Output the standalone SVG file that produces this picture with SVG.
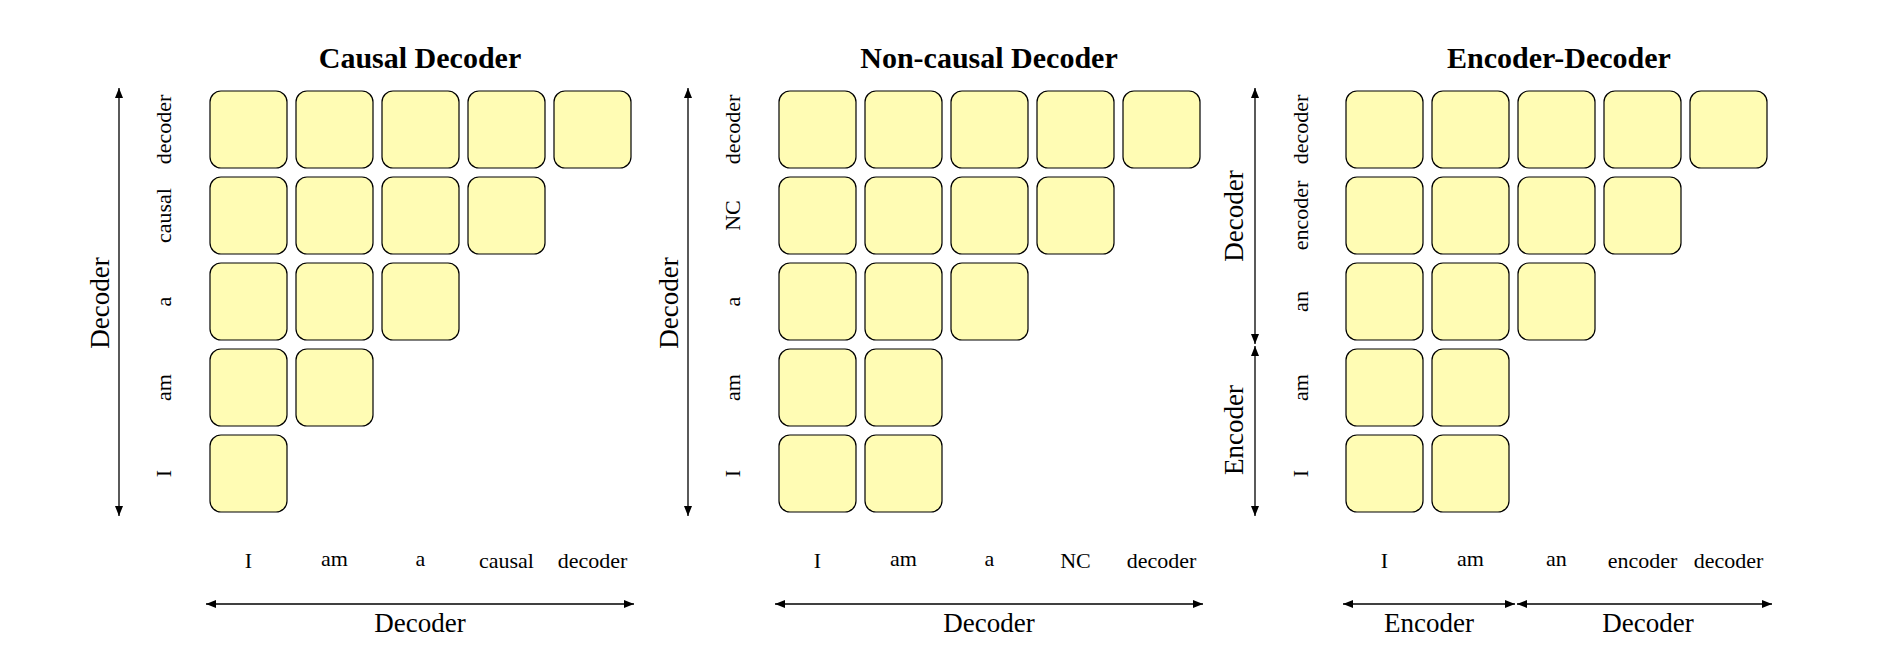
<svg xmlns="http://www.w3.org/2000/svg" width="1886" height="664" viewBox="0 0 1886 664">
<style>
.c{fill:#fffcb4;stroke:#000;stroke-width:1.2}
.t{font-family:"Liberation Serif",serif;font-size:22px;text-anchor:middle;dominant-baseline:central}
.h{font-family:"Liberation Serif",serif;font-size:30px;font-weight:bold;text-anchor:middle}
.a{font-family:"Liberation Serif",serif;font-size:27px;text-anchor:middle;dominant-baseline:central}
.l{stroke:#000;stroke-width:1.3;fill:none;marker-start:url(#m);marker-end:url(#m)}
</style>
<defs>
<marker id="m" viewBox="0 0 10 8" refX="10" refY="4" markerWidth="10" markerHeight="8" markerUnits="userSpaceOnUse" orient="auto-start-reverse"><path d="M0,0L10,4L0,8z" fill="#000"/></marker>
<rect id="r" class="c" width="77" height="77" rx="11"/>
</defs>
<g id="causal">
<text class="h" x="420" y="68">Causal Decoder</text>
<use href="#r" x="210" y="91"/><use href="#r" x="296" y="91"/><use href="#r" x="382" y="91"/><use href="#r" x="468" y="91"/><use href="#r" x="554" y="91"/>
<use href="#r" x="210" y="177"/><use href="#r" x="296" y="177"/><use href="#r" x="382" y="177"/><use href="#r" x="468" y="177"/>
<use href="#r" x="210" y="263"/><use href="#r" x="296" y="263"/><use href="#r" x="382" y="263"/>
<use href="#r" x="210" y="349"/><use href="#r" x="296" y="349"/>
<use href="#r" x="210" y="435"/>
<text class="t" transform="translate(163,129.5) rotate(-90)">decoder</text>
<text class="t" transform="translate(163,215.5) rotate(-90)">causal</text>
<text class="t" transform="translate(163,301.5) rotate(-90)">a</text>
<text class="t" transform="translate(163,387.5) rotate(-90)">am</text>
<text class="t" transform="translate(163,473.5) rotate(-90)">I</text>
<text class="t" x="248.5" y="560">I</text><text class="t" x="334.5" y="558">am</text><text class="t" x="420.5" y="558">a</text><text class="t" x="506.5" y="560">causal</text><text class="t" x="592.5" y="560">decoder</text>
<text class="a" transform="translate(100,303) rotate(-90)">Decoder</text>
<text class="a" x="420" y="623">Decoder</text>
</g>
<g id="noncausal">
<text class="h" x="989" y="68">Non-causal Decoder</text>
<use href="#r" x="779" y="91"/><use href="#r" x="865" y="91"/><use href="#r" x="951" y="91"/><use href="#r" x="1037" y="91"/><use href="#r" x="1123" y="91"/>
<use href="#r" x="779" y="177"/><use href="#r" x="865" y="177"/><use href="#r" x="951" y="177"/><use href="#r" x="1037" y="177"/>
<use href="#r" x="779" y="263"/><use href="#r" x="865" y="263"/><use href="#r" x="951" y="263"/>
<use href="#r" x="779" y="349"/><use href="#r" x="865" y="349"/>
<use href="#r" x="779" y="435"/><use href="#r" x="865" y="435"/>
<text class="t" transform="translate(732,129.5) rotate(-90)">decoder</text>
<text class="t" transform="translate(732,215.5) rotate(-90)">NC</text>
<text class="t" transform="translate(732,301.5) rotate(-90)">a</text>
<text class="t" transform="translate(732,387.5) rotate(-90)">am</text>
<text class="t" transform="translate(732,473.5) rotate(-90)">I</text>
<text class="t" x="817.5" y="560">I</text><text class="t" x="903.5" y="558">am</text><text class="t" x="989.5" y="558">a</text><text class="t" x="1075.5" y="560">NC</text><text class="t" x="1161.5" y="560">decoder</text>
<text class="a" transform="translate(669,303) rotate(-90)">Decoder</text>
<text class="a" x="989" y="623">Decoder</text>
</g>
<g id="encdec">
<text class="h" x="1559" y="68">Encoder-Decoder</text>
<use href="#r" x="1346" y="91"/><use href="#r" x="1432" y="91"/><use href="#r" x="1518" y="91"/><use href="#r" x="1604" y="91"/><use href="#r" x="1690" y="91"/>
<use href="#r" x="1346" y="177"/><use href="#r" x="1432" y="177"/><use href="#r" x="1518" y="177"/><use href="#r" x="1604" y="177"/>
<use href="#r" x="1346" y="263"/><use href="#r" x="1432" y="263"/><use href="#r" x="1518" y="263"/>
<use href="#r" x="1346" y="349"/><use href="#r" x="1432" y="349"/>
<use href="#r" x="1346" y="435"/><use href="#r" x="1432" y="435"/>
<text class="t" transform="translate(1300,129.5) rotate(-90)">decoder</text>
<text class="t" transform="translate(1300,215.5) rotate(-90)">encoder</text>
<text class="t" transform="translate(1300,301.5) rotate(-90)">an</text>
<text class="t" transform="translate(1300,387.5) rotate(-90)">am</text>
<text class="t" transform="translate(1300,473.5) rotate(-90)">I</text>
<text class="t" x="1384.5" y="560">I</text><text class="t" x="1470.5" y="558">am</text><text class="t" x="1556.5" y="558">an</text><text class="t" x="1642.5" y="560">encoder</text><text class="t" x="1728.5" y="560">decoder</text>
<text class="a" transform="translate(1234,216) rotate(-90)">Decoder</text>
<text class="a" transform="translate(1234,430) rotate(-90)">Encoder</text>
<text class="a" x="1429" y="623">Encoder</text>
<text class="a" x="1648" y="623">Decoder</text>
</g>
<g id="connectors">
<line class="l" x1="119" y1="88" x2="119" y2="516"/>
<line class="l" x1="206" y1="604" x2="634" y2="604"/>
<line class="l" x1="688" y1="88" x2="688" y2="516"/>
<line class="l" x1="775" y1="604" x2="1203" y2="604"/>
<line class="l" x1="1255" y1="88" x2="1255" y2="344"/>
<line class="l" x1="1255" y1="346" x2="1255" y2="516"/>
<line class="l" x1="1343" y1="604" x2="1515" y2="604"/>
<line class="l" x1="1517" y1="604" x2="1772" y2="604"/>
</g>
</svg>
